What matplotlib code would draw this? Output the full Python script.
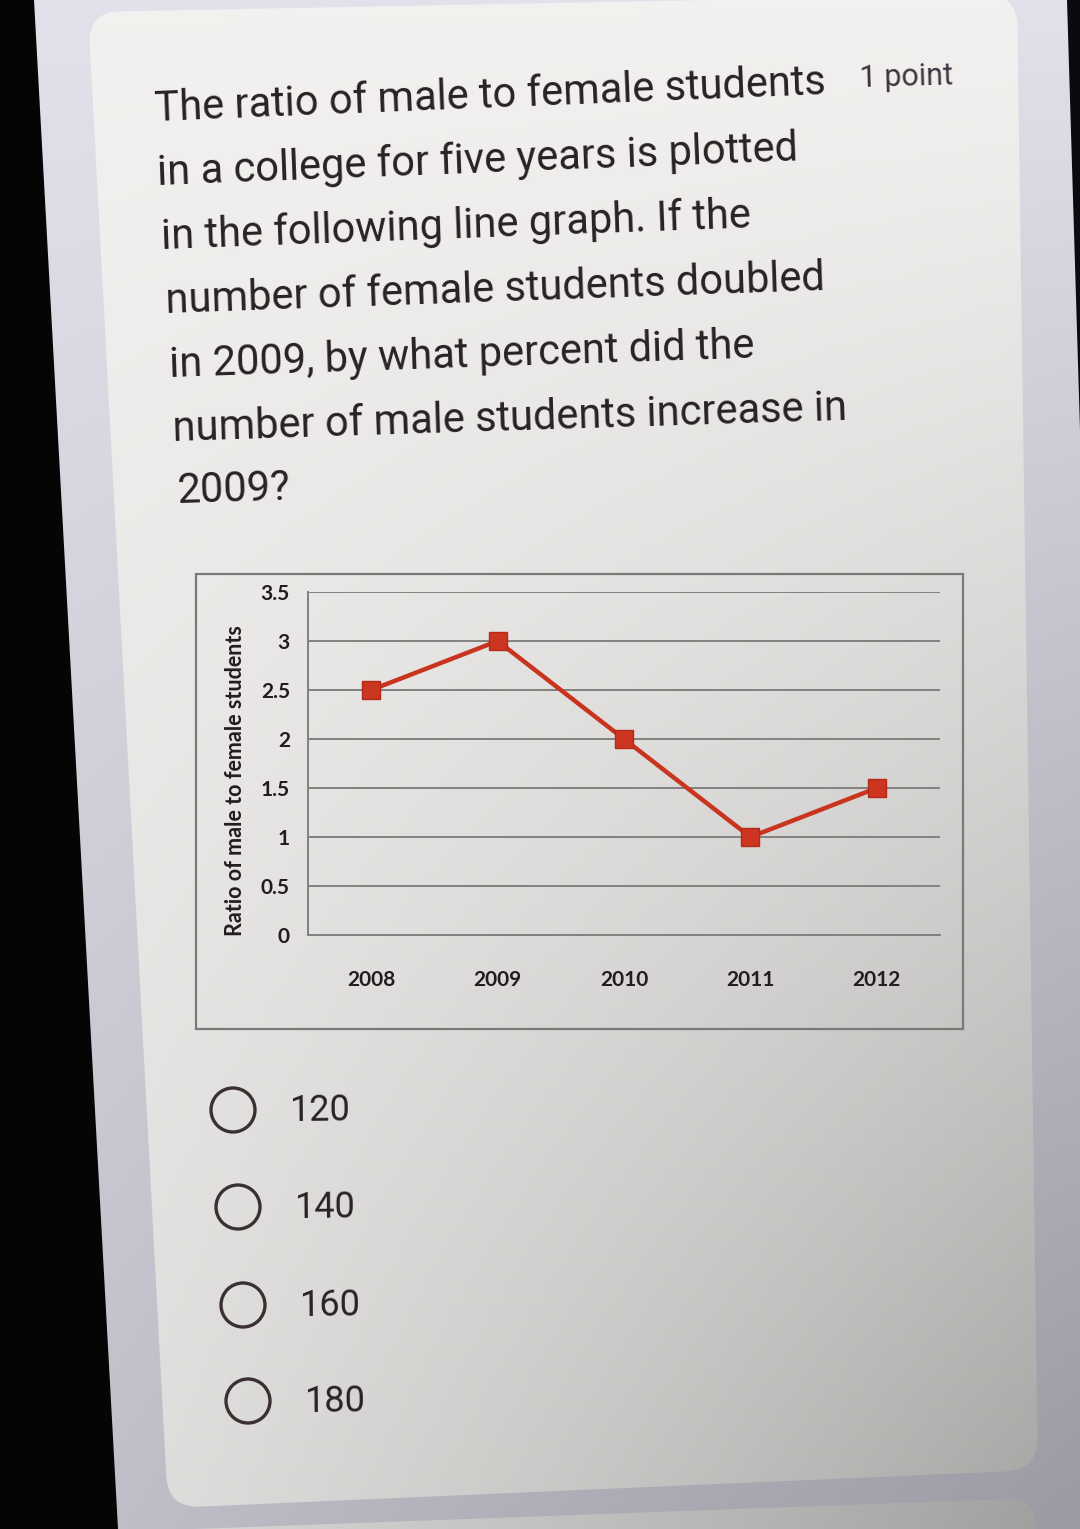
import numpy as np
import matplotlib
matplotlib.use("Agg")
import matplotlib.pyplot as plt
from matplotlib.path import Path
from matplotlib.patches import PathPatch, Polygon, Rectangle, Circle

# ---- chart data ----
years = ["2008", "2009", "2010", "2011", "2012"]
ratio = [2.5, 3.0, 2.0, 1.0, 1.5]
y_ticks = [0, 0.5, 1, 1.5, 2, 2.5, 3, 3.5]
y_tick_labels = ["0", "0.5", "1", "1.5", "2", "2.5", "3", "3.5"]
y_title = "Ratio of male to female students"

# ---- question text ----
question_lines = [
    "The ratio of male to female students",
    "in a college for five years is plotted",
    "in the following line graph. If the",
    "number of female students doubled",
    "in 2009, by what percent did the",
    "number of male students increase in",
    "2009?",
]
points_label = "1 point"
options = ["120", "140", "160", "180"]

W, H = 1080, 1529
TEXT = "#272224"
ROBOTO = ["Roboto", "DejaVu Sans"]
LATO = ["Lato", "DejaVu Sans"]


def rounded_path(corners, r):
    """closed path through the corners with rounded joints"""
    pts = np.array(corners, float)
    n = len(pts)
    verts, codes = [], []
    for i in range(n):
        p0, p1, p2 = pts[i - 1], pts[i], pts[(i + 1) % n]
        a = p1 + (p0 - p1) / np.linalg.norm(p0 - p1) * r
        b = p1 + (p2 - p1) / np.linalg.norm(p2 - p1) * r
        verts += [a, p1, b]
        codes += [Path.MOVETO if i == 0 else Path.LINETO, Path.CURVE3, Path.CURVE3]
    verts.append(verts[0])
    codes.append(Path.CLOSEPOLY)
    return Path(verts, codes)


fig = plt.figure(figsize=(W / 100, H / 100), dpi=100)
bg = fig.add_axes([0, 0, 1, 1], zorder=0)
bg.set_xlim(0, W)
bg.set_ylim(H, 0)
bg.axis("off")

# screen background (lavender grey, darker to the bottom right)
gx, gy = np.meshgrid(np.linspace(0, 1, 216), np.linspace(0, 1, 306))
b2 = 0.90 - 0.12 * gy - 0.16 * gx * gy
screen = np.dstack([b2 - 0.01, b2 - 0.02, b2 + 0.02]).clip(0, 1)
bg.imshow(screen, extent=(0, W, H, 0), aspect="auto", zorder=0)

# card shading
b = 0.95 - 0.06 * gy - 0.25 * (gx * gy) ** 1.3
card_img = np.dstack([b, b - 0.004, b - 0.012]).clip(0, 1)

card = PathPatch(rounded_path([(88, 12), (1017, -6), (1038, 1470), (168, 1508)], 32),
                 facecolor="none", edgecolor="none")
bg.add_patch(card)
im = bg.imshow(card_img, extent=(0, W, H, 0), aspect="auto", zorder=1)
im.set_clip_path(card)

card2 = PathPatch(rounded_path([(168, 1530), (1036, 1498), (1036, 1640), (168, 1640)], 28),
                  facecolor="none", edgecolor="none")
bg.add_patch(card2)
im2 = bg.imshow(card_img * 0.97, extent=(0, W, H, 0), aspect="auto", zorder=1)
im2.set_clip_path(card2)

# dark bezel edges of the photo
bg.add_patch(Polygon([(0, 0), (34, 0), (118, H), (0, H)], closed=True,
                     facecolor="#060506", edgecolor="none", zorder=2))
bg.add_patch(Polygon([(1067, 0), (W, 0), (W, 430)], closed=True,
                     facecolor="#0b0a10", edgecolor="none", zorder=2))

# question
left_x = [155, 158, 162, 166, 170, 173, 177]
base_y = [121, 185, 249, 313, 377, 441, 503]
tilt = [2.3, 2.2, 2.1, 2.0, 1.9, 1.8, 1.7]
for s, x, y, t in zip(question_lines, left_x, base_y, tilt):
    bg.text(x, y, s, fontsize=30, family=ROBOTO, color=TEXT, ha="left",
            va="baseline", rotation=t, rotation_mode="anchor", zorder=3)
bg.text(860, 87, points_label, fontsize=22, family=ROBOTO, color="#3b3540",
        ha="left", va="baseline", rotation=1.6, rotation_mode="anchor", zorder=3)

# answer options
circ_x = [233, 238, 243, 248]
circ_y = [1110, 1207, 1305, 1401]
for s, cx, cy in zip(options, circ_x, circ_y):
    bg.add_patch(Circle((cx, cy), 22, facecolor="none", edgecolor="#3a2f31",
                        lw=2.4, zorder=3))
    bg.text(cx + 57, cy + 11, s, fontsize=26, family=ROBOTO, color=TEXT,
            ha="left", va="baseline", rotation=0.6, rotation_mode="anchor", zorder=3)

# excel chart frame
bg.add_patch(Rectangle((196, 574), 767, 455, facecolor="none", edgecolor="#7b7878",
                       lw=1.6, zorder=3))

# ---- the line chart ----
pl, pr, pt, pb = 308, 940, 592, 935
ax = fig.add_axes([pl / W, 1 - pb / H, (pr - pl) / W, (pb - pt) / H], zorder=4)
ax.set_facecolor("none")
ax.plot(range(len(years)), ratio, color="#c9341f", lw=3.2, marker="s",
        markersize=12.5, markerfacecolor="#cc3620", markeredgecolor="#b32a18",
        zorder=5, clip_on=False)
ax.set_xlim(-0.5, len(years) - 0.5)
ax.set_ylim(0, 3.5)
ax.set_xticks(range(len(years)))
ax.set_xticklabels(years)
ax.set_yticks(y_ticks)
ax.set_yticklabels(y_tick_labels)
ax.yaxis.grid(True, color="#838080", lw=1.4)
ax.set_axisbelow(True)
for side in ("top", "right"):
    ax.spines[side].set_visible(False)
for side in ("left", "bottom"):
    ax.spines[side].set_color("#838080")
    ax.spines[side].set_linewidth(1.4)
ax.tick_params(axis="both", length=0, labelsize=15, labelcolor="#231c1e")
ax.tick_params(axis="y", pad=13)
ax.tick_params(axis="x", pad=25)
for lab in ax.get_xticklabels() + ax.get_yticklabels():
    lab.set_family(LATO)
    lab.set_fontweight("bold")
ax.set_ylabel(y_title, fontsize=15.5, family=LATO, fontweight="bold", color="#231c1e")
ax.yaxis.set_label_coords(-0.098, 0.45)

fig.savefig("out.png", dpi=100)
